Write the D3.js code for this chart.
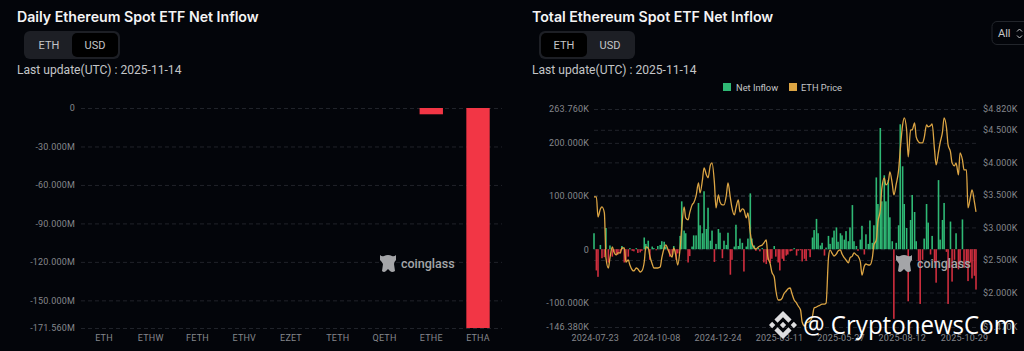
<!DOCTYPE html>
<html>
<head>
<meta charset="utf-8">
<script src="https://cdnjs.cloudflare.com/ajax/libs/d3/7.8.5/d3.min.js"></script>
<style>
  html, body { margin: 0; padding: 0; background: #03050a; overflow: hidden; }
  text { font-family: Inter, Roboto, sans-serif; }
  .axis text { fill: #85878c; font-size: 9px; font-family: Roboto, sans-serif; letter-spacing: 0.2px; }
  .axis path { display: none; }
  .grid line { stroke: #20232a; stroke-dasharray: 4 3; }
  .grid path { display: none; }
</style>
</head>
<body>
<svg id="chart" width="1024" height="351"></svg>
<script>
// daily chart, USD
const funds = ["ETH", "ETHW", "FETH", "ETHV", "EZET", "TETH", "QETH", "ETHE", "ETHA"];
const dailyFlow = [0, 0, 0, 0, 0, 0, 0, -4.9, -171.56];
const dailyTicks = [0, -30, -60, -90, -120, -150, -171.56];

// total chart, ETH. one reading every 2.5 days or so
const startDate = "2024-07-23";
const dateLabels = ["2024-07-23", "2024-10-08", "2024-12-24", "2025-03-11", "2025-05-27", "2025-08-12", "2025-10-29"];
const netInflow = [
  30, -40, -52, 8, -17, -15, 40, -25, 7, -14,
  -5, -10, -10, -8, 6, -25, -22, -14, 2, -3,
  -4, 2, -7, -6, -3, 22, 10, 16, -20, 5,
  2, -2, 6, 8, 15, 14, 5, -2, -14, -12,
  6, -20, -8, 25, 90, 35, 30, -25, -13, 5,
  26, 26, 87, 45, 30, 109, 38, 78, 16, 35,
  -24, 10, 38, 31, -17, 16, 8, 31, -48, -20,
  5, 46, 6, 20, 12, -42, 5, 20, 105, 20,
  7, -3, 3, -4, 2, -25, -28, -20, -26, -18,
  6, -14, -25, -40, -18, -22, -12, -10, -4, -3,
  2, -12, -3, -2, -23, -18, -22, -2, -15, 22,
  36, 57, 30, 7, 12, -12, 3, 25, 10, 22,
  35, 41, 14, 30, 26, 18, 34, 15, 41, 83,
  15, 6, -3, 18, 44, -10, 28, 10, 54, 12,
  45, 135, 85, 228, 90, 139, 90, 130, 60, 15,
  -131, 12, 45, 235, 156, 85, 40, -98, 55, 102,
  70, 15, -22, -103, -20, 20, 85, 50, -10, 25,
  -25, -63, 130, 18, 55, 87, -5, -103, 52, -61,
  -20, 30, -38, -25, 56, -35, -30, -60, -25, -55,
  -50, -76
];
const ethPrice = [
  3469, 3469, 3161, 3284, 3315, 3223, 2531, 2377, 2531, 2700,
  2623, 2577, 2608, 2608, 2684, 2684, 2469, 2500, 2423, 2346,
  2331, 2377, 2361, 2315, 2331, 2469, 2700, 2684, 2561, 2438,
  2377, 2377, 2377, 2392, 2531, 2684, 2731, 2654, 2592, 2546,
  2684, 2546, 2423, 2684, 2992, 3315, 3146, 3115, 3223, 3346,
  3377, 3484, 3684, 3530, 3730, 3915, 3807, 3761, 3961, 3992,
  3684, 3300, 3500, 3392, 3346, 3346, 3500, 3684, 3453, 3300,
  3192, 3300, 3423, 3238, 3284, 3269, 3146, 3223, 2915, 2761,
  2684, 2669, 2700, 2715, 2731, 2761, 2807, 2546, 2438, 2315,
  2238, 2038, 1885, 1885, 1915, 1977, 2023, 2054, 2069, 1992,
  1885, 1838, 1792, 1731, 1546, 1485, 1531, 1546, 1562, 1638,
  1762, 1777, 1792, 1808, 1823, 1823, 1838, 2531, 2654, 2592,
  2561, 2592, 2638, 2654, 2592, 2531, 2500, 2454, 2531, 2561,
  2608, 2577, 2561, 2469, 2269, 2408, 2438, 2423, 2423, 2531,
  2731, 2807, 3084, 3269, 3607, 3761, 3653, 3700, 3853, 3669,
  3500, 3669, 3884, 4192, 4577, 4684, 4500, 4084, 4500, 4500,
  4607, 4392, 4315, 4300, 4300, 4376, 4577, 4546, 4561, 4592,
  4192, 3961, 4161, 4300, 4469, 4684, 4530, 4269, 4161, 3992,
  3946, 3992, 3807, 4146, 4038, 3884, 3884, 3300, 3469, 3576,
  3392, 3238
];
const flowTicks = [263.76, 200, 100, 0, -100, -146.38];
const flowTickText = ["263.760K", "200.000K", "100.000K", "0", "-100.000K", "-146.380K"];
const priceTicks = [4820, 4500, 4000, 3500, 3000, 2500, 2000, 1470];
const priceTickText = ["$4.820K", "$4.500K", "$4.000K", "$3.500K", "$3.000K", "$2.500K", "$2.000K", "$1.470K"];

const GREEN = "#2fb975";
const RED = "#f23645";
const DARK_RED = "#cf2e3e";
const GOLD = "#dca544";

const svg = d3.select("#chart");

// ---- header bits (title, toggle, update line)
function header(left, toggleLeft, title, selected) {
    svg.append("text").attr("x", left).attr("y", 22)
        .attr("fill", "#f4f4f5").style("font-size", "14.15px").style("font-weight", 600).text(title);
    svg.append("rect").attr("x", toggleLeft).attr("y", 31).attr("width", 96).attr("height", 28)
        .attr("rx", 6).attr("fill", "#1d1f25");
    const pick = selected == "ETH" ? toggleLeft + 2 : toggleLeft + 48;
    svg.append("rect").attr("x", pick).attr("y", 33).attr("width", 46).attr("height", 24)
        .attr("rx", 5).attr("fill", "#000");
    ["ETH", "USD"].forEach((d, i) => {
        svg.append("text").attr("x", toggleLeft + 25 + i * 46).attr("y", 49)
            .attr("text-anchor", "middle").attr("fill", "#c4c5c8")
            .style("font-size", "11px").style("font-family", "Roboto").text(d);
    });
    svg.append("text").attr("x", left).attr("y", 74).attr("fill", "#c4c5c8")
        .style("font-size", "12.1px").style("font-family", "Roboto").text("Last update(UTC) : 2025-11-14");
}
header(17, 24, "Daily Ethereum Spot ETF Net Inflow", "USD");
header(532, 539, "Total Ethereum Spot ETF Net Inflow", "ETH");

// range dropdown, cut off by the window edge
svg.append("rect").attr("x", 992).attr("y", 21.5).attr("width", 60).attr("height", 23)
    .attr("rx", 5).attr("fill", "none").attr("stroke", "#22252b");
svg.append("text").attr("x", 998).attr("y", 37).attr("fill", "#c4c5c8")
    .style("font-size", "11px").style("font-family", "Roboto").text("All");
svg.append("path").attr("d", "M1017 31.5l2.5-2.5 2.5 2.5M1017 35.5l2.5 2.5 2.5-2.5")
    .attr("fill", "none").attr("stroke", "#c4c5c8");

// ---- daily bars
const xDaily = d3.scaleBand().domain(funds).range([80.6, 501.4]).paddingInner(0.5).paddingOuter(0.25);
const yDaily = d3.scaleLinear().domain([0, -171.56]).range([108, 328]);

svg.append("g").attr("class", "grid").attr("transform", "translate(81,0)")
    .call(d3.axisRight(yDaily).tickValues(dailyTicks).tickSize(421).tickFormat(""));
svg.append("g").attr("class", "axis").attr("transform", "translate(75,0)")
    .call(d3.axisLeft(yDaily).tickValues(dailyTicks).tickSize(0).tickPadding(0)
        .tickFormat(d => d == 0 ? "0" : d3.format(".3f")(d).replace("−", "-") + "M"));
svg.append("g").attr("class", "axis").attr("transform", "translate(0,328)")
    .call(d3.axisBottom(xDaily).tickSize(0).tickPadding(7));

svg.selectAll(".daily-bar").data(funds).enter().append("rect")
    .attr("class", "daily-bar")
    .attr("x", d => xDaily(d))
    .attr("width", xDaily.bandwidth())
    .attr("y", yDaily(0))
    .attr("height", (d, i) => yDaily(dailyFlow[i]) - yDaily(0))
    .attr("fill", RED);

// ---- total chart
const parseDay = d3.utcParse("%Y-%m-%d");
const flowDates = netInflow.map((d, i) => d3.utcDay.offset(parseDay(startDate), Math.round(i * 2.51 - 1)));
const xTotal = d3.scaleUtc()
    .domain([d3.utcDay.offset(parseDay(startDate), -1), flowDates[flowDates.length - 1]])
    .range([594, 976]);
const yFlow = d3.scaleLinear().domain([-146.38, 263.76]).range([327, 109]);
const yPrice = d3.scaleLinear().domain([1470, 4820]).range([327, 109]);

svg.append("g").attr("class", "grid").attr("transform", "translate(594,0)")
    .call(d3.axisRight(yFlow).tickValues(flowTicks).tickSize(384).tickFormat(""));
svg.append("g").attr("class", "grid").attr("transform", "translate(594,0)")
    .call(d3.axisRight(yPrice).tickValues(priceTicks.slice(1, -1)).tickSize(384).tickFormat(""));
svg.append("g").attr("class", "axis").attr("transform", "translate(589,0)")
    .call(d3.axisLeft(yFlow).tickValues(flowTicks).tickSize(0).tickPadding(0)
        .tickFormat((d, i) => flowTickText[i]));
svg.append("g").attr("class", "axis").attr("transform", "translate(983,0)")
    .call(d3.axisRight(yPrice).tickValues(priceTicks).tickSize(0).tickPadding(0)
        .tickFormat((d, i) => priceTickText[i]));
svg.append("g").attr("class", "axis").attr("transform", "translate(0,327)")
    .call(d3.axisBottom(xTotal).tickValues(dateLabels.map(parseDay)).tickSize(0).tickPadding(8)
        .tickFormat(d3.utcFormat("%Y-%m-%d")));

svg.selectAll(".flow-bar").data(netInflow).enter().append("rect")
    .attr("class", "flow-bar")
    .attr("x", (d, i) => xTotal(flowDates[i]) - 0.8)
    .attr("width", 1.6)
    .attr("y", d => d > 0 ? yFlow(d) : yFlow(0))
    .attr("height", d => Math.abs(yFlow(d) - yFlow(0)))
    .attr("fill", d => d > 0 ? GREEN : DARK_RED);

svg.append("path").datum(ethPrice)
    .attr("fill", "none").attr("stroke", GOLD).attr("stroke-width", 1.3)
    .attr("d", d3.line().x((d, i) => xTotal(flowDates[i])).y(d => yPrice(d)).curve(d3.curveMonotoneX));

// legend
[["Net Inflow", GREEN, 723, 13], ["ETH Price", GOLD, 789, 12]].forEach(([name, color, lx, gap]) => {
    svg.append("rect").attr("x", lx).attr("y", 83).attr("width", 8).attr("height", 8).attr("fill", color);
    svg.append("text").attr("x", lx + gap).attr("y", 91).attr("fill", "#c4c5c8")
        .style("font-size", "9.3px").style("font-family", "Roboto").text(name);
});

// ---- watermarks
function coinglass(px, py) {
    const g = svg.append("g").attr("transform", `translate(${px},${py})`).attr("fill", "#a4a5a8");
    g.append("path").attr("d", "M0 1 Q2 3 4 2 Q8 0 12 2 Q14 3 16 1 L16 6 Q14 8 14 10 L15 17 Q12 19 10 17 L8 15 L6 17 Q4 19 2 17 L3 10 Q2 8 0 6 Z");
    g.append("text").attr("x", 21).attr("y", 13.5).style("font-size", "12.5px").style("font-weight", 500)
        .style("font-family", "Roboto").text("coinglass");
}
coinglass(380, 254);
coinglass(896, 254);

// binance mark + site name on top of everything
svg.append("path").attr("transform", "translate(769,311) scale(0.875)").attr("fill", "#dedee0")
    .attr("d", "M9.8 13.4 L16 7.2 L22.2 13.4 L25.8 9.8 L16 0 L6.2 9.8 Z M0 16 L3.6 12.4 L7.2 16 L3.6 19.6 Z M9.8 18.6 L16 24.8 L22.2 18.6 L25.8 22.2 L16 32 L6.2 22.2 Z M24.8 16 L28.4 12.4 L32 16 L28.4 19.6 Z M19.6 16 L16 12.4 L12.4 16 L16 19.6 Z");
svg.append("text").attr("x", 803).attr("y", 334).attr("fill", "#fff")
    .attr("textLength", 213).attr("lengthAdjust", "spacingAndGlyphs")
    .style("font-size", "25px").style("font-family", "Open Sans").text("@ CryptonewsCom");
</script>
</body>
</html>
